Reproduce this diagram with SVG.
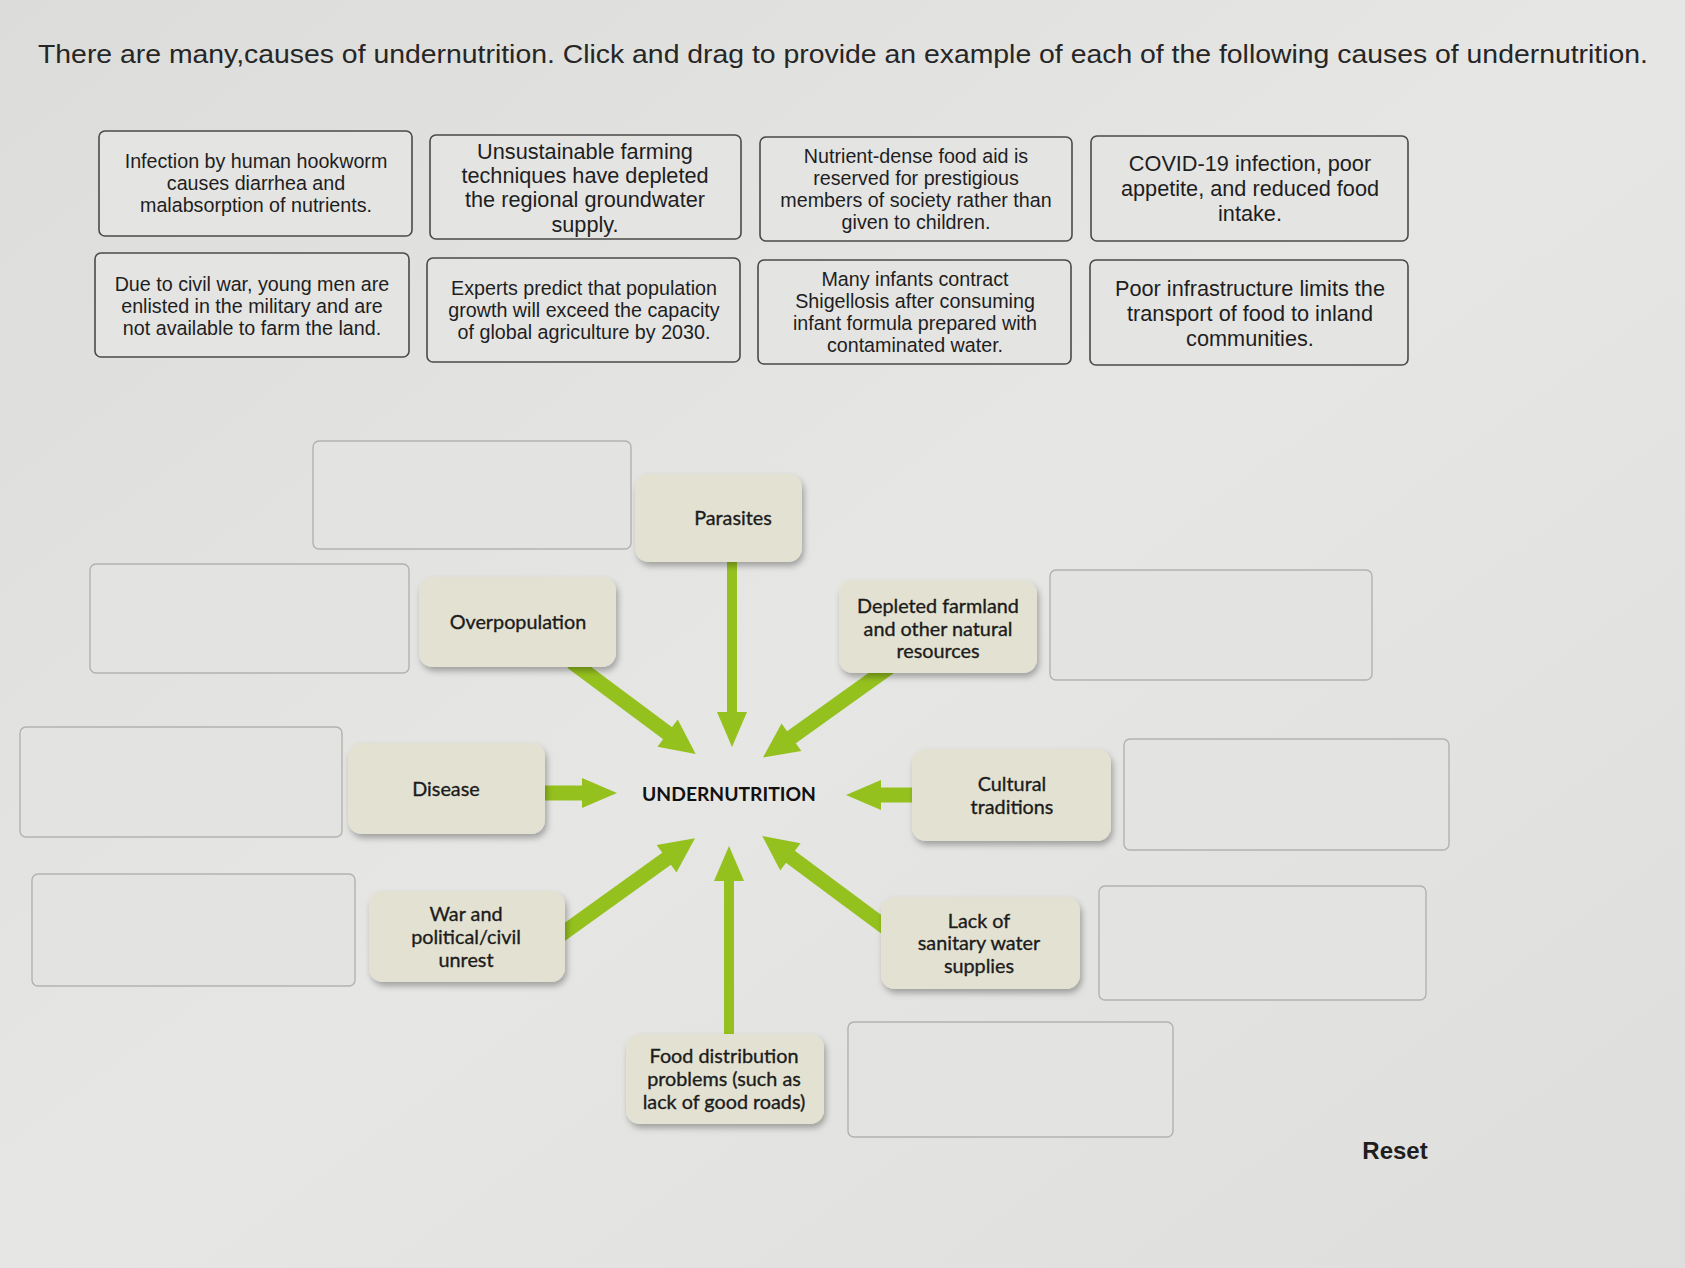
<svg xmlns="http://www.w3.org/2000/svg" width="1685" height="1268" viewBox="0 0 1685 1268">
  <defs>
    <linearGradient id="bg" x1="0" y1="0" x2="1" y2="1">
      <stop offset="0" stop-color="#dcdcda"/>
      <stop offset="0.5" stop-color="#e6e6e4"/>
      <stop offset="1" stop-color="#dededc"/>
    </linearGradient>
    <filter id="shadow" x="-20%" y="-20%" width="150%" height="160%">
      <feDropShadow dx="2" dy="4" stdDeviation="3" flood-color="#000" flood-opacity="0.3"/>
    </filter>
    <marker id="head" markerUnits="userSpaceOnUse" markerWidth="40" markerHeight="44" viewBox="-4 -20 40 40" refX="0" refY="0" orient="auto">
      <path d="M-3,-17 L32,0 L-3,17 Z" fill="#95c11f"/>
    </marker>
    <marker id="headS" markerUnits="userSpaceOnUse" markerWidth="40" markerHeight="44" viewBox="-4 -20 40 40" refX="0" refY="0" orient="auto">
      <path d="M-3,-15 L32,0 L-3,15 Z" fill="#95c11f"/>
    </marker>
  </defs>
  <style>
    .title { font-family: "Liberation Sans", Arial, sans-serif; font-size: 26px; fill: #262626; }
    .card rect { fill: #e4e4e2; stroke: #4a4a4a; stroke-width: 1.6; }
    .card text { font-family: "Liberation Sans", Arial, sans-serif; font-size: 19.7px; fill: #1e1e1e; text-anchor: middle; dominant-baseline: central; }
    .card.big text { font-size: 21.7px; }
    .drop rect { fill: #e3e3e1; stroke: #b2b2b0; stroke-width: 1.4; }
    .node rect { fill: #e3e2d2; filter: url(#shadow); }
    .node text { font-family: Lato, "Open Sans", sans-serif; font-size: 19.8px; fill: #1c1c1c; stroke: #1c1c1c; stroke-width: 0.35; text-anchor: middle; dominant-baseline: central; }
    .center text { font-family: Lato, "Open Sans", sans-serif; font-size: 19.3px; font-weight: bold; fill: #111; text-anchor: middle; dominant-baseline: central; }
    .conn line { stroke: #95c11f; fill: none; }
    .reset { font-family: "Liberation Sans", Arial, sans-serif; font-size: 24px; font-weight: bold; fill: #1e1e1e; text-anchor: middle; dominant-baseline: central; }
  </style>

  <rect x="0" y="0" width="1685" height="1268" fill="url(#bg)"/>

  <text class="title" x="38" y="63" textLength="1610" lengthAdjust="spacingAndGlyphs">There are many,causes of undernutrition. Click and drag to provide an example of each of the following causes of undernutrition.</text>

  <!-- Answer cards -->
  <g id="card-hookworm" class="card">
    <rect x="99" y="131" width="313" height="105" rx="6"/>
    <text x="256" y="161">Infection by human hookworm</text>
    <text x="256" y="183">causes diarrhea and</text>
    <text x="256" y="205">malabsorption of nutrients.</text>
  </g>
  <g id="card-farming" class="card big">
    <rect x="430" y="135" width="311" height="104" rx="6"/>
    <text x="585" y="151">Unsustainable farming</text>
    <text x="585" y="175">techniques have depleted</text>
    <text x="585" y="199">the regional groundwater</text>
    <text x="585" y="224">supply.</text>
  </g>
  <g id="card-foodaid" class="card">
    <rect x="760" y="137" width="312" height="104" rx="6"/>
    <text x="916" y="156">Nutrient-dense food aid is</text>
    <text x="916" y="178">reserved for prestigious</text>
    <text x="916" y="200">members of society rather than</text>
    <text x="916" y="222">given to children.</text>
  </g>
  <g id="card-covid" class="card big">
    <rect x="1091" y="136" width="317" height="105" rx="6"/>
    <text x="1250" y="163">COVID-19 infection, poor</text>
    <text x="1250" y="188">appetite, and reduced food</text>
    <text x="1250" y="213">intake.</text>
  </g>
  <g id="card-civilwar" class="card">
    <rect x="95" y="253" width="314" height="104" rx="6"/>
    <text x="252" y="284">Due to civil war, young men are</text>
    <text x="252" y="306">enlisted in the military and are</text>
    <text x="252" y="328">not available to farm the land.</text>
  </g>
  <g id="card-population" class="card">
    <rect x="427" y="258" width="313" height="104" rx="6"/>
    <text x="584" y="288">Experts predict that population</text>
    <text x="584" y="310">growth will exceed the capacity</text>
    <text x="584" y="332">of global agriculture by 2030.</text>
  </g>
  <g id="card-shigellosis" class="card">
    <rect x="758" y="260" width="313" height="104" rx="6"/>
    <text x="915" y="279">Many infants contract</text>
    <text x="915" y="301">Shigellosis after consuming</text>
    <text x="915" y="323">infant formula prepared with</text>
    <text x="915" y="345">contaminated water.</text>
  </g>
  <g id="card-infrastructure" class="card big">
    <rect x="1090" y="260" width="318" height="105" rx="6"/>
    <text x="1250" y="288">Poor infrastructure limits the</text>
    <text x="1250" y="313">transport of food to inland</text>
    <text x="1250" y="338">communities.</text>
  </g>

  <!-- Drop zones -->
  <g id="drop-1" class="drop"><rect x="313" y="441" width="318" height="108" rx="6"/></g>
  <g id="drop-2" class="drop"><rect x="90" y="564" width="319" height="109" rx="6"/></g>
  <g id="drop-3" class="drop"><rect x="1050" y="570" width="322" height="110" rx="6"/></g>
  <g id="drop-4" class="drop"><rect x="20" y="727" width="322" height="110" rx="6"/></g>
  <g id="drop-5" class="drop"><rect x="1124" y="739" width="325" height="111" rx="6"/></g>
  <g id="drop-6" class="drop"><rect x="32" y="874" width="323" height="112" rx="6"/></g>
  <g id="drop-7" class="drop"><rect x="1099" y="886" width="327" height="114" rx="6"/></g>
  <g id="drop-8" class="drop"><rect x="848" y="1022" width="325" height="115" rx="6"/></g>

  <!-- Connectors -->
  <g id="connectors" class="conn">
    <line x1="732" y1="555" x2="732" y2="715" stroke-width="10" marker-end="url(#headS)"/>
    <line x1="572" y1="662" x2="670" y2="735" stroke-width="15" marker-end="url(#head)"/>
    <line x1="891" y1="666" x2="789" y2="739" stroke-width="15" marker-end="url(#head)"/>
    <line x1="538" y1="793" x2="585" y2="793" stroke-width="15" marker-end="url(#headS)"/>
    <line x1="920" y1="795" x2="878" y2="795" stroke-width="15" marker-end="url(#headS)"/>
    <line x1="559" y1="936" x2="669" y2="857" stroke-width="15" marker-end="url(#head)"/>
    <line x1="729" y1="1040" x2="729" y2="878" stroke-width="10" marker-end="url(#headS)"/>
    <line x1="889" y1="930" x2="788" y2="855" stroke-width="15" marker-end="url(#head)"/>
  </g>

  <!-- Cause nodes -->
  <g id="node-parasites" class="node">
    <rect x="635" y="474" width="167" height="88" rx="14"/>
    <text x="733" y="517">Parasites</text>
  </g>
  <g id="node-overpopulation" class="node">
    <rect x="419" y="577" width="197" height="90" rx="14"/>
    <text x="518" y="621">Overpopulation</text>
  </g>
  <g id="node-depleted" class="node">
    <rect x="839" y="580" width="198" height="93" rx="14"/>
    <text x="938" y="605">Depleted farmland</text>
    <text x="938" y="628">and other natural</text>
    <text x="938" y="650">resources</text>
  </g>
  <g id="node-disease" class="node">
    <rect x="348" y="743" width="197" height="91" rx="14"/>
    <text x="446" y="788">Disease</text>
  </g>
  <g id="node-undernutrition" class="center">
    <text x="729" y="793">UNDERNUTRITION</text>
  </g>
  <g id="node-cultural" class="node">
    <rect x="912" y="749" width="199" height="92" rx="14"/>
    <text x="1012" y="783">Cultural</text>
    <text x="1012" y="806">traditions</text>
  </g>
  <g id="node-war" class="node">
    <rect x="369" y="891" width="196" height="91" rx="14"/>
    <text x="466" y="913">War and</text>
    <text x="466" y="936">political/civil</text>
    <text x="466" y="959">unrest</text>
  </g>
  <g id="node-sanitary" class="node">
    <rect x="881" y="897" width="199" height="92" rx="14"/>
    <text x="979" y="920">Lack of</text>
    <text x="979" y="942">sanitary water</text>
    <text x="979" y="965">supplies</text>
  </g>
  <g id="node-food" class="node">
    <rect x="626" y="1034" width="198" height="90" rx="14"/>
    <text x="724" y="1055">Food distribution</text>
    <text x="724" y="1078">problems (such as</text>
    <text x="724" y="1101">lack of good roads)</text>
  </g>

  <text class="reset" x="1395" y="1150">Reset</text>
</svg>
